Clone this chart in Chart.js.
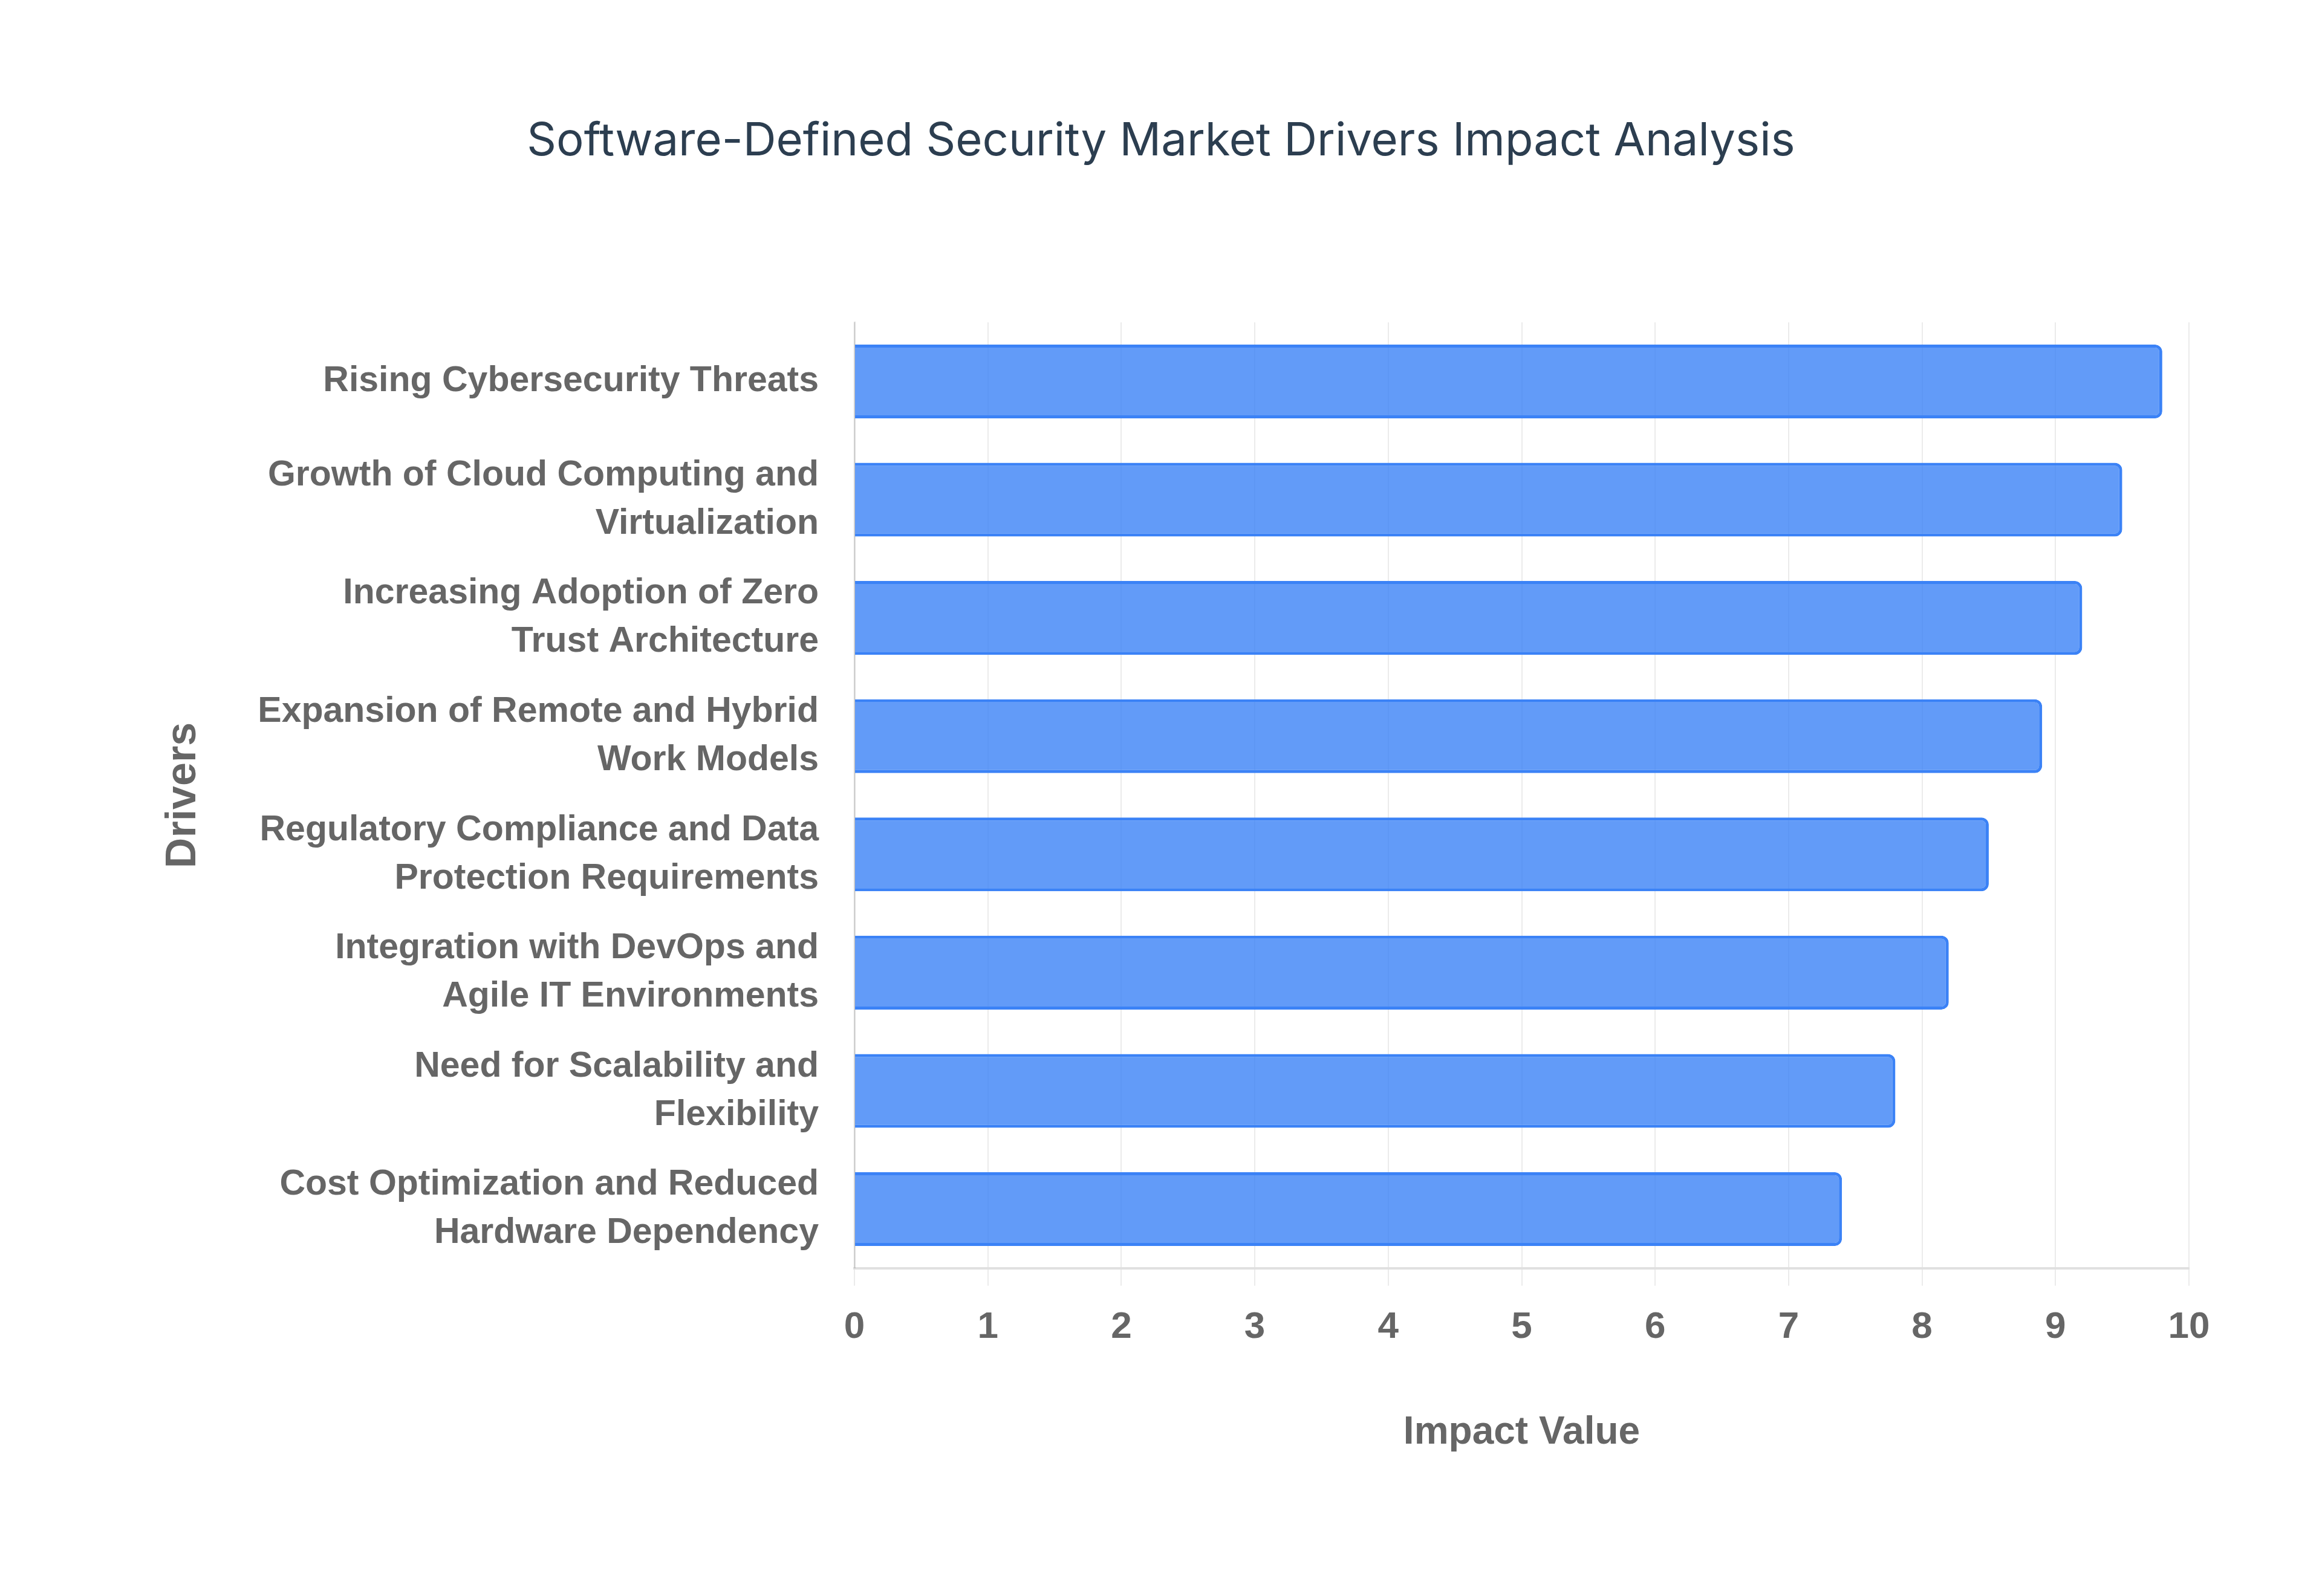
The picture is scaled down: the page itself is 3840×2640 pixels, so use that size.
<!DOCTYPE html>
<html>
<head>
<meta charset="utf-8">
<script src="https://cdn.jsdelivr.net/npm/chart.js@4.4.1/dist/chart.umd.min.js"></script>
<style>
  html, body { margin: 0; padding: 0; background: #ffffff; }
  #wrap { width: 3840px; height: 2640px; }
</style>
</head>
<body>
<div id="wrap"><canvas id="c" width="3840" height="2640"></canvas></div>
<script>
const drivers = [
  ["Rising Cybersecurity Threats"],
  ["Growth of Cloud Computing and", "Virtualization"],
  ["Increasing Adoption of Zero", "Trust Architecture"],
  ["Expansion of Remote and Hybrid", "Work Models"],
  ["Regulatory Compliance and Data", "Protection Requirements"],
  ["Integration with DevOps and", "Agile IT Environments"],
  ["Need for Scalability and", "Flexibility"],
  ["Cost Optimization and Reduced", "Hardware Dependency"]
];
const impactValues = [9.8, 9.5, 9.2, 8.9, 8.5, 8.2, 7.8, 7.4];
const xTicks = [0, 1, 2, 3, 4, 5, 6, 7, 8, 9, 10];

const titleText = "Software-Defined Security Market Drivers Impact Analysis";
const xTitle = "Impact Value";
const yTitle = "Drivers";

new Chart(document.getElementById('c'), {
  type: 'bar',
  data: {
    labels: drivers,
    datasets: [{
      label: 'Impact Value',
      data: impactValues,
      backgroundColor: 'rgba(59,130,246,0.8)',
      borderColor: 'rgb(59,130,246)',
      borderWidth: 5,
      borderRadius: 12,
      barPercentage: 0.78,
      categoryPercentage: 0.8
    }]
  },
  options: {
    indexAxis: 'y',
    responsive: false,
    animation: false,
    devicePixelRatio: 1,
    layout: { padding: { top: 0, right: 220, bottom: 221, left: 220 } },
    plugins: {
      legend: { display: false },
      tooltip: { enabled: false },
      title: {
        display: true,
        text: titleText,
        color: '#2c3e50',
        font: { family: 'Inter', size: 76, weight: 'normal' },
        padding: { top: 189, bottom: 253 }
      }
    },
    scales: {
      x: {
        min: 0, max: 10,
        afterBuildTicks: (s) => { s.ticks = xTicks.map(v => ({ value: v })); },
        grid: { color: 'rgba(0,0,0,0.08)', lineWidth: 2, tickLength: 29, drawTicks: true },
        border: { display: true, color: 'rgba(0,0,0,0.12)', width: 4 },
        ticks: { color: '#666', padding: 32, font: { family: 'Liberation Sans', size: 62, weight: 'bold' } },
        title: { display: true, text: xTitle, color: '#666', padding: { top: 67, bottom: 10 },
                 font: { family: 'Liberation Sans', size: 64, weight: 'bold' } }
      },
      y: {
        afterFit: (s) => { s.width = 1413 - 220; },
        grid: { display: false, drawTicks: false },
        border: { display: true, color: 'rgba(0,0,0,0.12)', width: 3 },
        ticks: { color: '#666', padding: 59, font: { family: 'Liberation Sans', size: 59, weight: 'bold', lineHeight: 1.356 } },
        title: { display: true, text: yTitle, color: '#666', padding: { top: 42, bottom: 0 },
                 font: { family: 'Liberation Sans', size: 70, weight: 'bold' } }
      }
    }
  }
});
</script>
</body>
</html>
